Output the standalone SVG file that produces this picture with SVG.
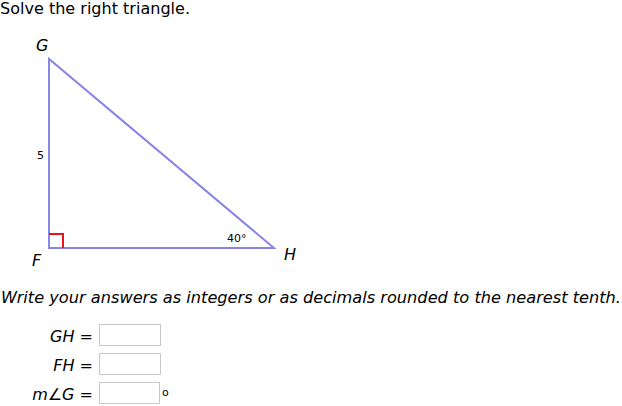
<svg xmlns="http://www.w3.org/2000/svg" width="622" height="406" viewBox="0 0 622 406">
<style>
text{font-family:"DejaVu Sans",Verdana,sans-serif;fill:#000}
.v{font-style:italic;font-size:16px}
.s{font-size:11px}
.tri{fill:none;stroke:#8a84e6;stroke-width:2}
.box{fill:#fff;stroke:#c8c8c8;stroke-width:1}
</style>
<rect width="622" height="406" fill="#fff"/>
<text x="0" y="14" font-size="15" textLength="190" lengthAdjust="spacingAndGlyphs">Solve the right triangle.</text>
<g id="triangle">
<polygon class="tri" points="49,59 49,248 274,248"/>
</g>
<g id="connectors">
<polyline points="49,234 63,234 63,248" fill="none" stroke="#e8141e" stroke-width="2"/>
</g>
<g id="G"><text class="v" x="36" y="51">G</text></g>
<g id="F"><text class="v" x="32" y="266">F</text></g>
<g id="H"><text class="v" x="284" y="260">H</text></g>
<text class="s" x="37" y="159">5</text>
<text class="s" x="227" y="242">40°</text>
<text x="1" y="303" font-size="15" font-style="italic" textLength="620" lengthAdjust="spacingAndGlyphs">Write your answers as integers or as decimals rounded to the nearest tenth.</text>
<g id="GH-row">
<text class="v" x="93" y="342" text-anchor="end">GH =</text>
<rect class="box" x="99.5" y="324.5" width="61" height="21"/>
</g>
<g id="FH-row">
<text class="v" x="93" y="371" text-anchor="end">FH =</text>
<rect class="box" x="99.5" y="353.5" width="61" height="21"/>
</g>
<g id="mG-row">
<text class="v" x="93" y="400" text-anchor="end">m∠G =</text>
<rect class="box" x="99.5" y="382.5" width="60" height="21"/>
<text x="162" y="396" font-size="11">o</text>
</g>
</svg>
